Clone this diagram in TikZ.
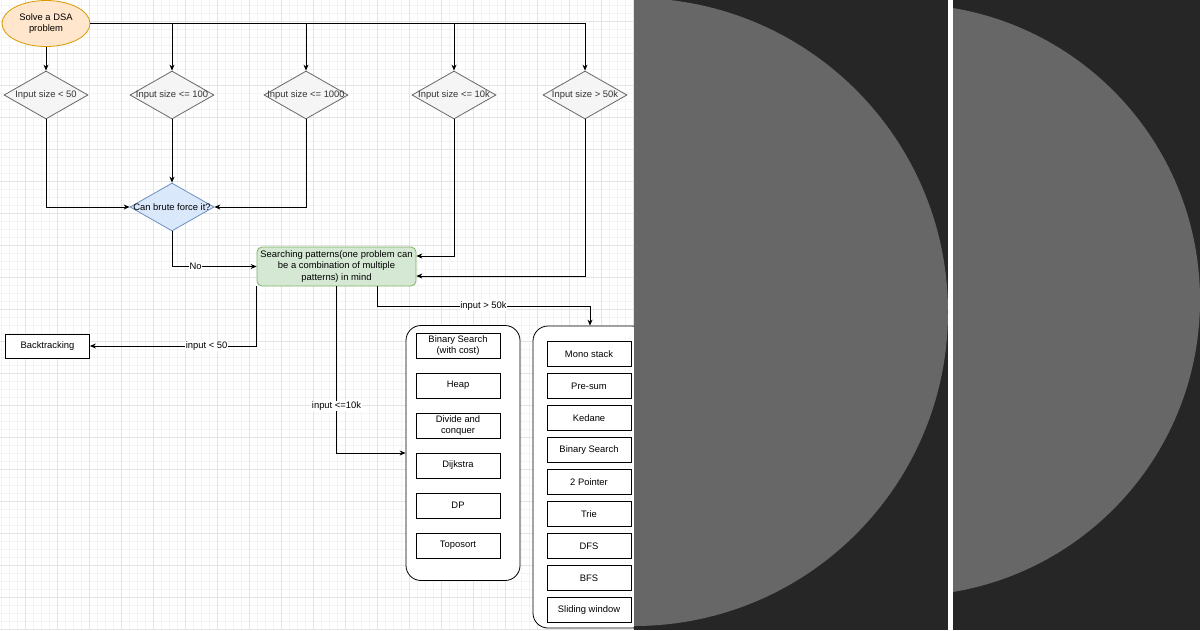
\documentclass[tikz,border=0pt]{standalone}
\usepackage{fontspec}
\setmainfont{Liberation Sans}
\usetikzlibrary{shapes.geometric,arrows.meta}
\definecolor{gridmaj}{HTML}{E4E4E4}
\definecolor{gridmin}{HTML}{F4F4F4}
\definecolor{orfill}{HTML}{FFE6CC}
\definecolor{ordraw}{HTML}{D79B00}
\definecolor{gyfill}{HTML}{F5F5F5}
\definecolor{gydraw}{HTML}{666666}
\definecolor{gytext}{HTML}{333333}
\definecolor{blfill}{HTML}{DAE8FC}
\definecolor{bldraw}{HTML}{6C8EBF}
\definecolor{grfill}{HTML}{D5E8D4}
\definecolor{grdraw}{HTML}{82B366}
\definecolor{darkbg}{HTML}{262626}
\definecolor{halfc}{HTML}{676767}
\begin{document}
\begin{tikzpicture}[x=1pt,y=-1pt,
  font=\fontsize{9.4}{11.5}\selectfont,
  lw/.style={line width=0.8pt},
  dia/.style={shape=diamond, draw=gydraw, fill=gyfill, lw, minimum width=84pt, minimum height=48pt, inner sep=0pt},
  diatext/.style={text=gytext, inner sep=0pt},
  box/.style={draw=black, fill=white, lw, minimum width=84pt, minimum height=25pt, inner sep=1pt, align=center},
  cont/.style={draw=black, fill=white, lw, rounded corners=15pt, minimum width=114pt},
  arr/.style={draw=black, lw, -{Stealth[length=6pt,width=5pt]}},
  elabel/.style={fill=white, inner sep=0.6pt, text=black}]
% background
\fill[white] (0,0) rectangle (1200,630);
\useasboundingbox (0,0) rectangle (1200,630);
% grid
\foreach \x in {1,9,...,633} \draw[gridmin, line width=0.6pt] (\x,0) -- (\x,630);
\foreach \y in {5,13,...,629} \draw[gridmin, line width=0.6pt] (0,\y) -- (634,\y);
\foreach \x in {25,57,...,633} \draw[gridmaj, line width=0.7pt] (\x,0) -- (\x,630);
\foreach \y in {21,53,...,629} \draw[gridmaj, line width=0.7pt] (0,\y) -- (634,\y);
% nodes
\node[ellipse, draw=ordraw, fill=orfill, lw, minimum width=88pt, minimum height=46pt, inner sep=0pt, align=center] (start) at (46,23.5) {Solve a DSA\\problem};
\node[dia] (d1) at (46,95) {};
\node[diatext] (d1t) at (d1) {Input size < 50};
\node[dia] (d2) at (172,95) {};
\node[diatext] (d2t) at (d2) {Input size <= 100};
\node[dia] (d3) at (306,95) {};
\node[diatext] (d3t) at (d3) {Input size <= 1000};
\node[dia] (d4) at (454,95) {};
\node[diatext] (d4t) at (d4) {Input size <= 10k};
\node[dia] (d5) at (585,95) {};
\node[diatext] (d5t) at (d5) {Input size > 50k};
\node[dia, draw=bldraw, fill=blfill] (cb) at (172,207) {};
\node[inner sep=0pt] (cbt) at (cb) {Can brute force it?};
\node[draw=grdraw, fill=grfill, lw, rounded corners=5pt, minimum width=159pt, minimum height=39pt, inner sep=0pt, align=center] (sp) at (336.5,266.5) {Searching patterns(one problem can\\be a combination of multiple\\patterns) in mind};
\node[box, minimum height=24pt] (bt) at (47.5,346) {Backtracking};
% containers
\node[cont, minimum height=255pt] (c1) at (463,453) {};
\node[cont, minimum height=302pt] (c2) at (590,477) {};
\node[box] (a1) at (458,345.5) {Binary Search\\(with cost)};
\node[box] (a2) at (458,385.5) {Heap};
\node[box] (a3) at (458,425.5) {Divide and\\conquer};
\node[box] (a4) at (458,465.5) {Dijkstra};
\node[box] (a5) at (458,505.5) {DP};
\node[box] (a6) at (458,545.5) {Toposort};
\node[box] (b1) at (589,354) {Mono stack};
\node[box] (b2) at (589,386) {Pre-sum};
\node[box] (b3) at (589,418) {Kedane};
\node[box] (b4) at (589,450) {Binary Search};
\node[box] (b5) at (589,482) {2 Pointer};
\node[box] (b6) at (589,514) {Trie};
\node[box] (b7) at (589,546) {DFS};
\node[box] (b8) at (589,578) {BFS};
\node[box] (b9) at (589,610) {Sliding window};
% connectors
\draw[arr] (start.south) -- (d1.north);
\draw[arr] (start.east) -| (d2.north);
\draw[arr] (start.east) -| (d3.north);
\draw[arr] (start.east) -| (d4.north);
\draw[arr] (start.east) -| (d5.north);
\draw[arr] (d1.south) |- (cb.west);
\draw[arr] (d2.south) -- (cb.north);
\draw[arr] (d3.south) |- (cb.east);
\draw[arr] (cb.south) |- node[elabel, pos=0.64] {No} (sp.west);
\draw[arr] (d4.south) |- ([yshift=10.5pt]sp.east);
\draw[arr] (d5.south) |- ([yshift=-9.5pt]sp.east);
\draw[arr] (sp.south west) |- node[elabel, pos=0.65] {input < 50} (bt.east);
\draw[arr] (sp.south) |- node[elabel, pos=0.36] {input <=10k} (c1.west);
\coordinate (k50) at (377,306);
\draw[lw] ([xshift=40.5pt]sp.south) -- (k50);
\draw[arr] (k50) -| node[elabel, pos=0.25] {input > 50k} (c2.north);
% right panels
\fill[darkbg] (634,0) rectangle (948,630);
\begin{scope}
\clip (634,0) rectangle (948,630);
\fill[halfc] (634,312) circle (314pt);
\end{scope}
\fill[darkbg] (953,0) rectangle (1200,630);
\begin{scope}
\clip (953,0) rectangle (1200,630);
\fill[halfc] (904,300) circle (296pt);
\end{scope}
\end{tikzpicture}
\end{document}
